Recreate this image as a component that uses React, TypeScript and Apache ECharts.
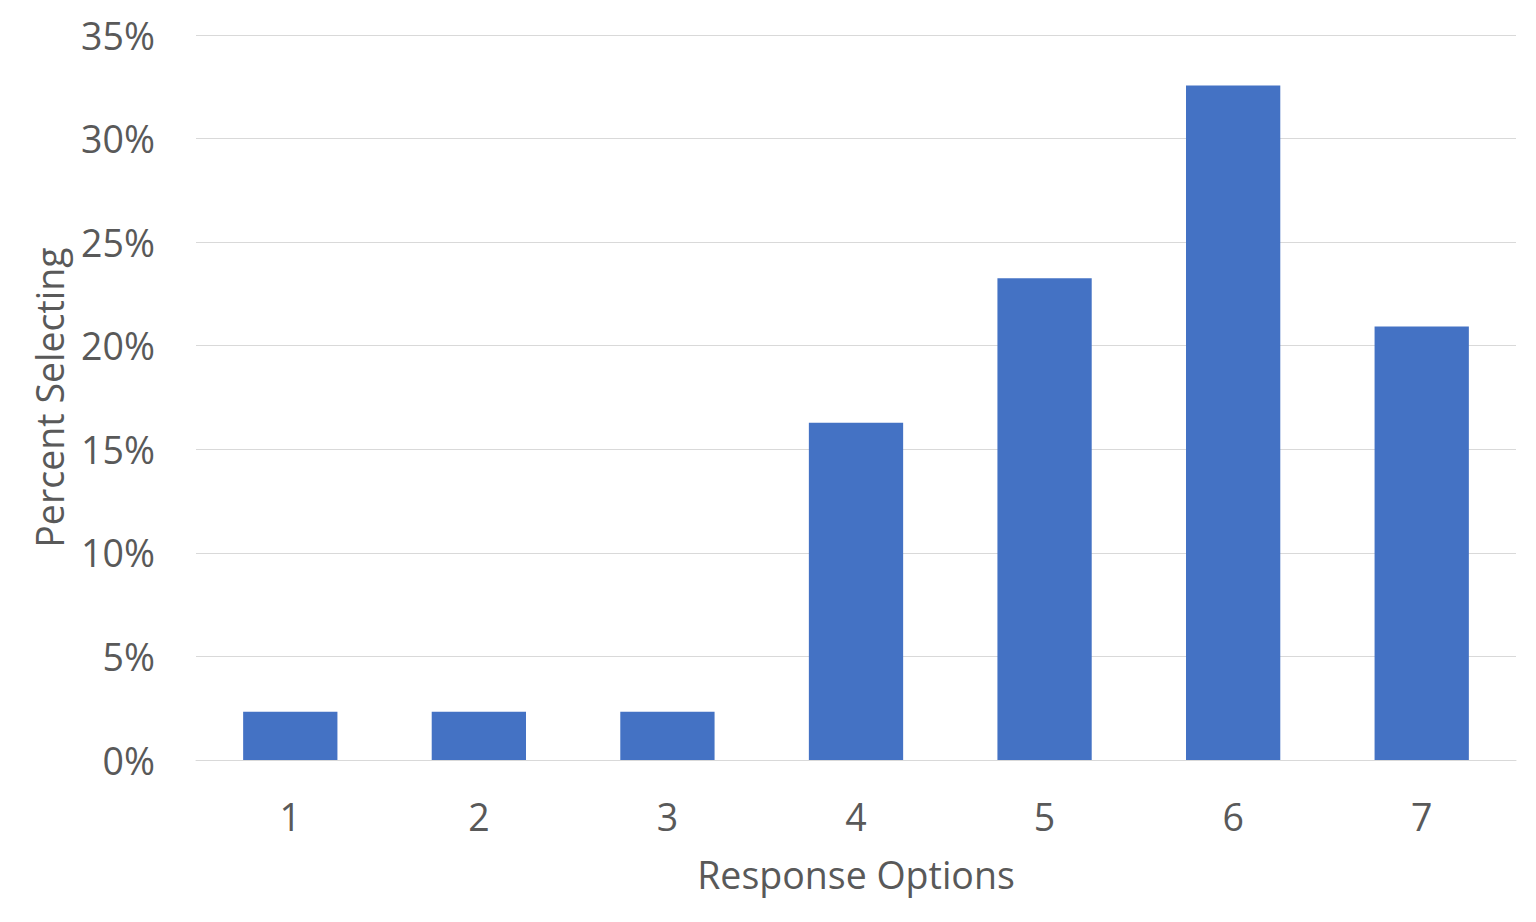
import React, { useEffect, useRef } from "react";
import * as echarts from "echarts";

const categories = ["1", "2", "3", "4", "5", "6", "7"];
const percentSelecting = [2.33, 2.33, 2.33, 16.28, 23.26, 32.56, 20.93];
const yTicks = { min: 0, max: 35, interval: 5 };

export default function App() {
  const ref = useRef<HTMLDivElement>(null);
  useEffect(() => {
    if (!ref.current) return;
    const chart = echarts.init(ref.current, null, { renderer: "svg" });
    const font = "'Open Sans', sans-serif";
    chart.setOption({
      animation: false,
      backgroundColor: "#ffffff",
      grid: { left: 196, right: 20, top: 35, bottom: 162, containLabel: false },
      xAxis: {
        type: "category",
        data: categories,
        name: "Response Options",
        nameLocation: "middle",
        nameGap: 95,
        nameTextStyle: { color: "#595959", fontSize: 37.5, fontFamily: font },
        axisLine: { show: true, lineStyle: { color: "#d9d9d9", width: 1 } },
        axisTick: { show: false },
        axisLabel: { color: "#595959", fontSize: 37.5, fontFamily: font, margin: 37 },
      },
      yAxis: {
        type: "value",
        min: yTicks.min,
        max: yTicks.max,
        interval: yTicks.interval,
        name: "Percent Selecting",
        nameLocation: "middle",
        nameGap: 128,
        nameTextStyle: { color: "#595959", fontSize: 37.5, fontFamily: font },
        axisLine: { show: false },
        axisTick: { show: false },
        splitLine: { lineStyle: { color: "#d9d9d9", width: 1 } },
        axisLabel: {
          color: "#595959",
          fontSize: 37.5,
          fontFamily: font,
          margin: 41,
          formatter: (v: number) => `${v}%`,
        },
      },
      series: [
        {
          type: "bar",
          data: percentSelecting,
          barWidth: "50%",
          itemStyle: { color: "#4472c4" },
        },
      ],
    });
    return () => chart.dispose();
  }, []);
  return (
    <div
      ref={ref}
      style={{ position: "absolute", left: 0, top: 0, width: 1536, height: 922 }}
    />
  );
}
